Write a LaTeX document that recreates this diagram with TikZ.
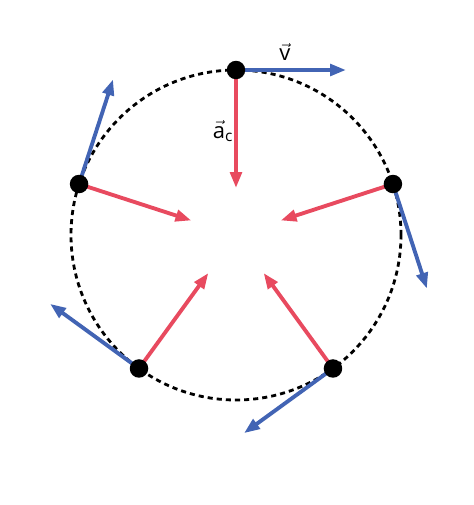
\documentclass[tikz,border=0pt]{standalone}
\usepackage{amsmath}
\usepackage{fontspec}
\setsansfont{Open Sans}
\usetikzlibrary{arrows.meta}
\begin{document}
\begin{tikzpicture}[x=0.02cm,y=0.02cm]
\pgfmathsetmacro\r{165};
\pgfmathsetmacro\vlen{110};
\pgfmathsetmacro\alen{118};
\definecolor{velblue}{RGB}{66,100,180}
\definecolor{accred}{RGB}{232,74,95}
\tikzset{
  vel/.style = {draw = velblue, line width = 2.2pt, -{Triangle[length=9pt,width=6.5pt]}},
  acc/.style = {draw = accred, line width = 2.2pt, -{Triangle[length=9pt,width=6.5pt]}},
  dot/.style = {circle, fill = black, inner sep = 0pt, minimum size = 0.37cm},
  lbl/.style = {font = \fontsize{12.5}{15}\selectfont\sffamily, inner sep = 0pt}
}
\useasboundingbox (-236,-270) rectangle (238,235);
\coordinate (c) at (0,0);
\draw [dash pattern = on 2.9pt off 2.3pt, line width = 1.6pt] (c) circle [radius = \r];
\foreach \a/\n in {90/top,162/left,18/right,234/lowleft,306/lowright} {
  \coordinate (\n) at (\a:\r);
  \path (\n) ++(\a-90:\vlen) coordinate (\n-v);
  \path (\n) ++(\a+180:\alen) coordinate (\n-a);
  \draw [vel] (\n) -- (\n-v);
  \draw [acc] (\n) -- (\n-a);
  \node [dot] (\n-dot) at (\n) {};
}
\node [lbl] (vlabel) at (49,183) {$\vec{\textsf{v}}$};
\node [lbl] (alabel) at (-13,104) {$\vec{\textsf{a}}_{\textsf{c}}$};
\end{tikzpicture}
\end{document}
